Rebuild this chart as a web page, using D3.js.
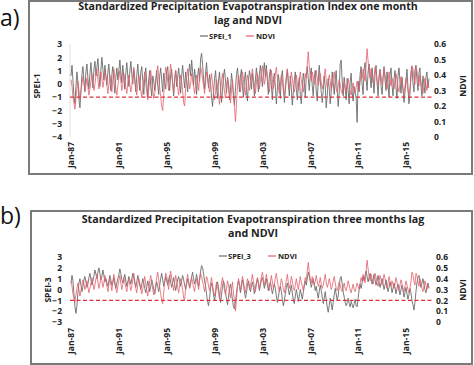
<!DOCTYPE html>
<html><head><meta charset="utf-8">
<script src="https://cdn.jsdelivr.net/npm/d3@7"></script>
<style>
body{margin:0;background:#fff;}
svg{display:block;}
text{font-family:"Open Sans","Liberation Sans",sans-serif;}
</style></head>
<body>
<svg id="c" width="474" height="365"></svg>
<script>
// ---------------- DATA ----------------
const startYear = 1987;
const xTickLabels = ["Jan-87","Jan-91","Jan-95","Jan-99","Jan-03","Jan-07","Jan-11","Jan-15"];
const speiTicksA = [3,2,1,0,-1,-2,-3,-4];
const speiTicksB = [3,2,1,0,-1,-2,-3];
const ndviTicks = [0.6,0.5,0.4,0.3,0.2,0.1,0];
const thresholdSPEI = -1;

const spei1 = [
 0.6, 1.4, 0.3,-0.9,-1.5,-0.2, 0.9, 0.1,-1.2,-1.8,-0.5, 0.7,
 1.3, 0.2,-0.6, 0.9, 1.5, 0.4,-0.4, 0.8, 1.6, 0.5,-0.3, 1.1,
 1.7, 0.6, 1.2, 1.9, 0.8,-0.2, 1.0, 2.0, 1.1, 0.3, 1.4, 0.6,
-0.1, 0.9, 1.5, 0.4,-0.5, 0.7, 1.3, 0.2,-0.7, 0.5, 1.2, 0.3,
 1.0, 1.8, 0.9, 0.1, 1.4, 0.5,-0.4, 0.8, 1.6, 0.6,-0.2, 0.9,
 1.7, 0.7, 0.0, 1.1, 0.3,-0.6, 0.6, 1.5, 0.4,-0.5, 0.9, 1.3,
 0.2,-0.8, 0.5, 1.2, 0.1,-1.0, 0.3, 1.0,-0.2,-0.9, 0.6, 0.2,
-0.5, 0.4, 1.0,-0.1,-0.8, 0.6, 1.2, 0.3,-0.6, 0.8, 0.1,-0.4,
 0.9, 1.3, 0.2,-0.5, 0.7, 1.1, 0.0,-0.9, 0.4, 1.0,-0.2, 0.5,
 1.2, 0.3,-0.7, 0.6, 1.4, 0.5,-0.3, 0.9, 0.2,-0.6, 0.8, 1.5,
 0.6, 1.8, 0.9,-0.1, 1.1, 0.4,-0.8, 0.5, 1.2, 0.2, 1.9, 2.3,
 1.4, 0.3,-0.4, 0.8, 1.6, 0.5,-0.3, 0.7, 0.0,-1.0,-1.7,-0.6,
 0.4, 1.0,-0.2,-1.1, 0.3, 0.9,-0.3,-1.4,-0.5, 0.6, 1.1, 0.2,
-0.7, 0.5, 0.0,-1.2,-0.4, 0.8, 0.1,-0.9,-1.6,-0.3, 0.7, 1.2,
 0.3,-0.6, 0.6, 1.1,-0.2,-1.0, 0.4, 0.9,-0.5,-1.3, 0.2, 1.0,
 0.5,-0.4, 0.8, 0.1,-0.9, 0.3, 1.2, 0.4,-0.6, 0.7, 1.4, 0.6,
-0.2, 0.9, 1.6, 0.5, 1.4, 0.2,-0.8, 0.6, 1.1,-0.1,-1.2, 0.3,
 0.8,-0.3,-1.5,-0.4, 0.7, 0.1,-1.1, 0.5, 1.0,-0.2,-1.4,-0.5,
 0.4, 1.1, 0.0,-0.9, 0.6,-0.3,-1.6,-0.6, 0.3, 0.9,-0.4,-1.2,
-0.2, 0.5,-0.8,-1.5,-0.3, 0.8, 0.2,-1.0, 0.6, 1.3, 0.4,-0.5,
 0.7, 1.2,-0.1,-0.9, 0.4, 1.0,-0.5,-1.3, 0.2, 1.4, 0.3,-0.6,
-1.4,-0.5, 0.6,-0.2,-1.8,-0.9, 0.4,-0.3,-1.5,-0.6, 0.9, 0.1,
-0.8, 0.3, 1.0,-0.4,-1.7,-0.7, 1.5, 1.8, 0.2,-0.9, 0.5,-0.3,
-1.2, 0.4,-0.5,-1.5, 0.1, 0.8,-0.6,-1.3,-0.2,-0.6,-1.1,-2.9,
 0.2,-0.6, 0.7, 1.3, 0.0,-0.8, 1.1, 1.6, 0.4,-0.5, 0.9, 1.5,
 0.5,-0.3, 1.2, 0.2,-0.7, 0.8, 1.4, 0.1,-0.9, 0.6, 1.1,-0.2,
-0.8, 0.5, 1.3, 0.3,-0.5, 0.9, 0.0,-1.0, 0.7, 1.2,-0.1,-0.9,
 0.4, 1.0,-0.3,-1.1, 0.6, 1.2, 0.2,-0.7, 0.5,-0.4,-1.4,-0.6,
 0.3, 1.1,-0.2,-1.5,-0.8, 0.9, 1.3, 0.1,-0.6, 1.0, 1.4, 0.3,
-0.5, 0.8, 1.2,-0.1,-0.9, 0.6, 0.0,-0.7, 0.5, 0.9,-0.3, 0.4
];

const spei3 = [
 0.6, 1.3, 0.8,-0.4,-1.6,-2.2,-1.5,-0.3, 0.6, 1.0, 0.4,-0.2,
 0.3, 0.9, 1.2, 0.7, 0.2, 0.5, 1.1, 1.5, 0.9, 0.4, 0.8, 1.3,
 1.8, 1.4, 1.0, 1.6, 2.0, 1.5, 0.9, 1.2, 1.8, 1.3, 0.7, 1.0,
 0.6, 0.3, 0.8, 1.3, 0.9, 0.4, 0.7, 1.1, 0.5, 0.1, 0.6, 1.0,
 1.4, 1.9, 1.5, 0.9, 0.6, 1.0, 1.4, 0.8, 0.3, 0.7, 1.2, 0.9,
 0.5, 1.0, 1.5, 1.1, 0.6, 0.2, 0.7, 1.3, 0.9, 0.4, 0.0, 0.5,
 1.0, 0.6, 0.1,-0.3, 0.2, 0.8, 0.4,-0.2, 0.3, 0.9, 0.5, 0.0,
-0.4, 0.2, 0.7, 0.3,-0.2, 0.4, 1.0, 1.5, 0.9, 0.3, 0.7, 1.2,
 0.8, 0.4, 0.9, 1.3, 0.7, 0.2, 0.6, 1.1, 0.5,-0.1, 0.4, 0.9,
 1.2, 0.7, 0.3, 0.8, 1.3, 0.9, 0.4, 0.0, 0.5, 1.0, 0.6, 0.2,
 0.7, 1.2, 1.6, 1.0, 0.5, 0.9, 1.4, 0.8, 0.3, 1.0, 1.7, 2.2,
 2.0, 1.4, 0.8, 0.3,-0.4,-1.1,-1.5,-0.8, 0.1, 0.6, 0.2,-0.5,
-1.0,-0.4, 0.3, 0.7, 0.2,-0.6,-1.2,-0.5, 0.3, 0.8, 0.4,-0.3,
-0.9,-1.4,-0.7, 0.1, 0.5,-0.2,-1.0,-1.6,-1.8,-1.1,-0.3, 0.4,
 0.8, 0.3,-0.3, 0.2, 0.9, 0.5,-0.2,-0.8,-0.3, 0.4, 0.8, 0.3,
-0.2, 0.3, 0.7, 0.2,-0.4, 0.1, 0.6, 1.0, 0.5,-0.1, 0.4, 0.9,
 1.1, 0.6, 0.1, 0.5, 1.0, 0.4,-0.1, 0.3, 0.7, 0.2,-0.4, 0.0,
 0.5, 0.1,-0.6,-1.2,-0.7,-0.1, 0.3,-0.2,-0.9,-1.5,-1.0,-0.4,
 0.2, 0.6, 0.1,-0.5,-0.1, 0.4,-0.3,-1.0,-1.3,-0.6, 0.0,-0.5,
-1.1,-0.6, 0.0,-0.4,-0.9,-0.3, 0.3, 0.8, 0.4, 1.0, 1.6, 1.2,
 0.7, 0.2, 0.6, 1.0, 0.5,-0.1, 0.3,-0.3,-0.8,-0.2, 0.4,-0.1,
-0.7,-1.3,-0.8,-0.2,-0.9,-1.6,-2.1,-1.5,-0.8,-1.3,-1.9,-1.2,
-0.5, 0.1,-0.4,-1.0,-0.6, 0.3, 1.0, 1.2, 0.5,-0.2,-0.7,-1.2,
-1.5,-1.2,-0.8,-1.3,-1.6,-1.1,-1.4,-1.7,-1.3,-0.9,-1.5,-1.6,
-0.8, 0.0, 0.5, 0.1, 0.6, 1.2, 0.8, 1.3, 1.7, 1.2, 0.7, 1.1,
 1.5, 1.0, 0.5, 0.9, 1.4, 0.9, 0.4, 0.8, 1.3, 0.7, 0.2, 0.6,
 1.0, 0.5, 0.0, 0.4, 0.9, 0.3,-0.2, 0.2, 0.7, 0.3,-0.3, 0.1,
 0.6, 0.2,-0.4, 0.1, 0.5, 0.0,-0.5, 0.0, 0.4,-0.1,-0.7,-0.3,
 0.2,-0.4,-0.9,-0.5, 0.1,-0.3,-1.0,-1.4,-1.9,-1.2,-0.2, 0.6,
 1.1, 1.3, 0.7, 0.2, 0.6, 1.0, 0.5, 0.0,-0.3, 0.2, 0.6, 0.1
];

const ndvi = [
 0.37,0.33,0.26,0.22,0.18,0.25,0.31,0.36,0.30,0.24,0.29,0.34,
 0.39,0.35,0.30,0.33,0.38,0.32,0.27,0.31,0.36,0.41,0.35,0.30,
 0.34,0.40,0.44,0.37,0.31,0.35,0.42,0.38,0.32,0.36,0.43,0.39,
 0.33,0.28,0.34,0.40,0.35,0.29,0.37,0.44,0.38,0.31,0.27,0.33,
 0.38,0.43,0.36,0.30,0.34,0.41,0.37,0.32,0.28,0.35,0.40,0.34,
 0.29,0.33,0.39,0.45,0.38,0.31,0.27,0.34,0.40,0.36,0.30,0.26,
 0.31,0.37,0.42,0.35,0.29,0.24,0.30,0.38,0.43,0.36,0.30,0.25,
 0.28,0.35,0.41,0.46,0.39,0.32,0.26,0.20,0.17,0.27,0.38,0.45,
 0.42,0.36,0.30,0.40,0.47,0.41,0.35,0.29,0.36,0.43,0.38,0.32,
 0.27,0.34,0.40,0.36,0.30,0.22,0.20,0.31,0.39,0.44,0.37,0.31,
 0.35,0.41,0.37,0.32,0.28,0.34,0.40,0.36,0.30,0.38,0.45,0.42,
 0.37,0.33,0.28,0.35,0.42,0.39,0.33,0.29,0.36,0.41,0.34,0.28,
 0.24,0.30,0.37,0.33,0.27,0.21,0.29,0.36,0.41,0.35,0.29,0.25,
 0.31,0.38,0.34,0.28,0.22,0.30,0.37,0.26,0.19,0.10,0.22,0.33,
 0.40,0.35,0.29,0.36,0.42,0.37,0.31,0.27,0.34,0.40,0.36,0.30,
 0.34,0.39,0.44,0.38,0.32,0.28,0.35,0.41,0.37,0.31,0.36,0.42,
 0.46,0.40,0.34,0.38,0.44,0.39,0.33,0.29,0.36,0.43,0.37,0.31,
 0.35,0.41,0.45,0.38,0.32,0.28,0.34,0.40,0.36,0.30,0.27,0.33,
 0.39,0.44,0.37,0.31,0.35,0.42,0.38,0.32,0.29,0.34,0.40,0.35,
 0.30,0.36,0.42,0.37,0.33,0.29,0.35,0.41,0.38,0.47,0.55,0.46,
 0.40,0.36,0.42,0.39,0.34,0.37,0.43,0.38,0.33,0.36,0.41,0.35,
 0.31,0.34,0.39,0.44,0.37,0.32,0.35,0.40,0.36,0.30,0.33,0.38,
 0.42,0.36,0.31,0.29,0.33,0.37,0.34,0.30,0.28,0.32,0.36,0.31,
 0.29,0.33,0.38,0.34,0.30,0.27,0.31,0.35,0.30,0.28,0.32,0.36,
 0.33,0.30,0.35,0.41,0.38,0.44,0.40,0.36,0.47,0.57,0.49,0.42,
 0.38,0.44,0.40,0.35,0.39,0.45,0.41,0.36,0.33,0.38,0.43,0.39,
 0.34,0.38,0.44,0.40,0.35,0.31,0.36,0.42,0.37,0.33,0.38,0.35,
 0.31,0.36,0.41,0.37,0.32,0.29,0.34,0.39,0.35,0.31,0.28,0.33,
 0.38,0.34,0.30,0.27,0.31,0.37,0.46,0.44,0.38,0.34,0.45,0.43,
 0.37,0.33,0.40,0.36,0.31,0.28,0.33,0.38,0.34,0.30,0.35,0.32
];

// ---------------- DRAW ----------------
const svg = d3.select("#c");
svg.append("rect").attr("width",474).attr("height",365).attr("fill","#fff");
const dates = d3.range(spei1.length).map(i => new Date(startYear, i, 1));
const x = d3.scaleTime().domain([new Date(1987,0,1), new Date(2015,0,1)]).range([71, 406]);
const tickDates = xTickLabels.map((l,i)=> new Date(1987 + 4*i, 0, 1));

const GRAY = "#6b6b6b", RED = "#e4606c", DASH = "#e0303c";

function panel(cfg){
  const g = svg.append("g");
  g.append("rect").attr("x",cfg.box[0]).attr("y",cfg.box[1]).attr("width",cfg.box[2]).attr("height",cfg.box[3])
    .attr("fill","#fff").attr("stroke","#7a7a7a").attr("stroke-width",2);
  g.append("text").attr("x",0).attr("y",cfg.letterY).attr("font-family","Liberation Sans, Arial, sans-serif")
    .attr("font-size",23).attr("fill","#111").text(cfg.letter);
  // title: size fitted on first line, shared by second line
  const t1 = g.append("text").attr("x",cfg.titleX).attr("y",cfg.titleY[0]).attr("text-anchor","middle")
    .attr("font-weight","bold").attr("font-size",10).attr("fill","#222").text(cfg.title[0]);
  const fs = (10*cfg.titleW/t1.node().getComputedTextLength()).toFixed(2);
  t1.attr("font-size",fs);
  g.append("text").attr("x",cfg.titleX).attr("y",cfg.titleY[1]).attr("text-anchor","middle")
    .attr("font-weight","bold").attr("font-size",fs).attr("fill","#222").text(cfg.title[1]);

  const yL = d3.scaleLinear().domain(cfg.speiDomain).range(cfg.yRange);
  const yR = d3.scaleLinear().domain([0,0.6]).range(cfg.yRange);

  if (cfg.axisLine) {
    g.append("line").attr("x1",70).attr("x2",70).attr("y1",cfg.yRange[1]).attr("y2",cfg.yRange[0])
      .attr("stroke","#e2e2e2").attr("stroke-width",1);
  }
  const la = g.append("g").attr("transform","translate(62,0)")
    .call(d3.axisLeft(yL).tickValues(cfg.speiTicks).tickSize(0).tickPadding(0).tickFormat(d3.format("d")));
  la.select(".domain").remove();
  la.selectAll("text").attr("font-family","Open Sans, sans-serif").attr("font-weight","bold").attr("font-size",8.5).attr("fill","#222");
  const ra = g.append("g").attr("transform",`translate(${cfg.rightX},0)`)
    .call(d3.axisRight(yR).tickValues(ndviTicks).tickSize(0).tickPadding(0).tickFormat(d=> d===0?"0":d3.format(".1f")(d)));
  ra.select(".domain").remove();
  ra.selectAll("text").attr("font-family","Open Sans, sans-serif").attr("font-weight","bold").attr("font-size",8.5).attr("fill","#222");
  g.append("text").attr("transform",`translate(${cfg.leftTitleX},${cfg.midY}) rotate(-90)`).attr("text-anchor","middle")
    .attr("font-weight","bold").attr("font-size",8.5).attr("fill","#222").text(cfg.leftTitle);
  g.append("text").attr("transform",`translate(${cfg.rightTitleX},${cfg.midY}) rotate(-90)`).attr("text-anchor","middle")
    .attr("font-weight","bold").attr("font-size",8.5).attr("fill","#222").text("NDVI");
  const xa = g.append("g").attr("transform",`translate(0,${cfg.xLabY})`)
    .call(d3.axisBottom(x).tickValues(tickDates).tickSize(0).tickPadding(0).tickFormat((d,i)=>xTickLabels[i]));
  xa.select(".domain").remove();
  xa.selectAll("text").attr("font-family","Open Sans, sans-serif").attr("font-weight","bold").attr("font-size",8.5).attr("fill","#222")
    .attr("text-anchor","end").attr("dy","0.32em").attr("y",0).attr("x",0).attr("transform","rotate(-90)");

  const lineL = d3.line().x((d,i)=>x(dates[i])).y(d=>yL(d));
  const lineR = d3.line().x((d,i)=>x(dates[i])).y(d=>yR(d));
  g.append("path").datum(cfg.spei).attr("d",lineL).attr("fill","none").attr("stroke",GRAY).attr("stroke-width",0.9).attr("stroke-linejoin","round");
  g.append("path").datum(ndvi).attr("d",lineR).attr("fill","none").attr("stroke",RED).attr("stroke-width",0.9).attr("stroke-opacity",0.9).attr("stroke-linejoin","round");
  g.append("line").attr("x1",x(dates[0])-1).attr("x2",x(dates[dates.length-1])+4)
    .attr("y1",yL(thresholdSPEI)).attr("y2",yL(thresholdSPEI))
    .attr("stroke",DASH).attr("stroke-width",1.2).attr("stroke-dasharray","4,2.5");

  const lg = g.append("g").attr("font-family","Open Sans, sans-serif").attr("font-weight","bold").attr("font-size",7.5).attr("fill","#222");
  lg.append("line").attr("x1",cfg.leg[0]).attr("x2",cfg.leg[0]+8).attr("y1",cfg.legY).attr("y2",cfg.legY).attr("stroke",GRAY).attr("stroke-width",1.2);
  lg.append("text").attr("x",cfg.leg[0]+9).attr("y",cfg.legY).attr("dy","0.35em").text(cfg.legName);
  lg.append("line").attr("x1",cfg.leg[1]).attr("x2",cfg.leg[1]+8).attr("y1",cfg.legY).attr("y2",cfg.legY).attr("stroke",RED).attr("stroke-width",1.2);
  lg.append("text").attr("x",cfg.leg[1]+10).attr("y",cfg.legY).attr("dy","0.35em").text("NDVI");
}

panel({
  box:[29,1,443,173], letter:"a)", letterY:26,
  title:["Standardized Precipitation Evapotranspiration Index one month","lag and NDVI"],
  titleX:248, titleY:[10,24], titleW:340,
  speiDomain:[-4,3], speiTicks:speiTicksA, yRange:[137,44],
  rightX:434, leftTitle:"SPEI-1", leftTitleX:40, rightTitleX:466, midY:86,
  xLabY:142, spei:spei1, leg:[200,246], legY:36, legName:"SPEI_1", axisLine:true
});
panel({
  box:[31,211,441,153], letter:"b)", letterY:224,
  title:["Standardized Precipitation Evapotranspiration  three months lag","and NDVI"],
  titleX:253, titleY:[223,237], titleW:343,
  speiDomain:[-3,3], speiTicks:speiTicksB, yRange:[322,257],
  rightX:436, leftTitle:"SPEI-3", leftTitleX:51, rightTitleX:466, midY:290,
  xLabY:328, spei:spei3, leg:[219,268], legY:256, legName:"SPEI_3", axisLine:false
});
</script>
</body></html>
